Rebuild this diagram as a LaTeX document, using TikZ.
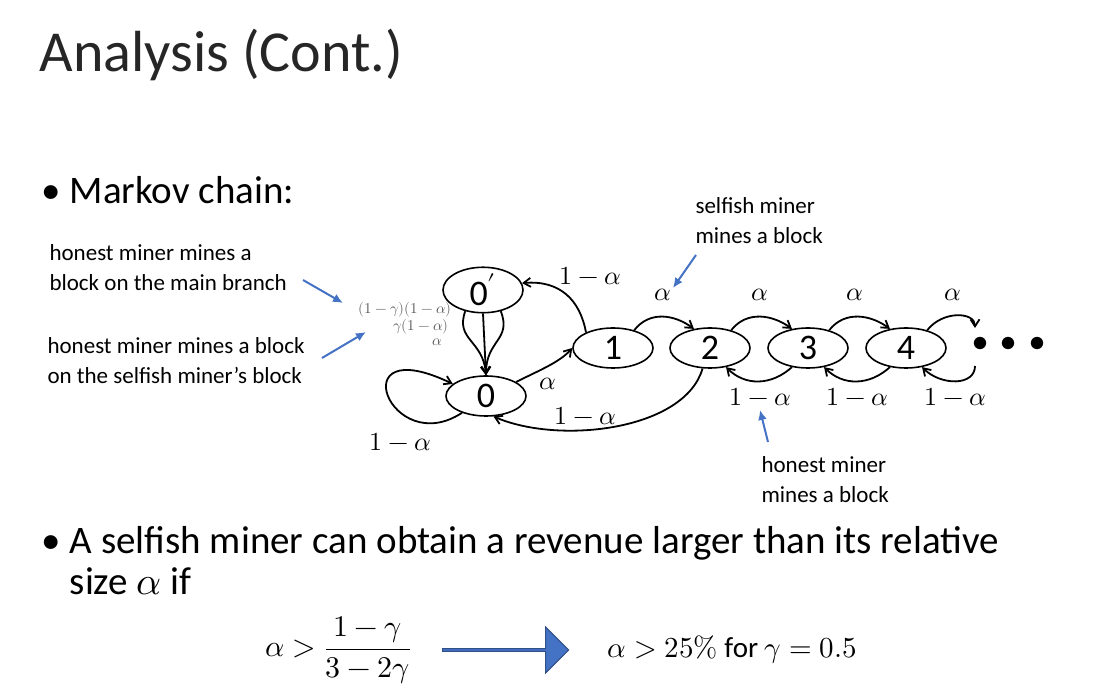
\documentclass[tikz,border=0pt]{standalone}
\usepackage{fontspec}
\setmainfont{Carlito}
\usepackage{unicode-math}
\usetikzlibrary{arrows.meta,shapes.arrows,shapes.geometric}
\definecolor{ppblue}{HTML}{4472C4}
\begin{document}
\begin{tikzpicture}[x=1pt,y=-1pt,
 st/.style={draw,line width=1.6pt,ellipse,minimum width=80pt,minimum height=40pt,inner sep=0pt,font=\fontsize{36}{36}\selectfont},
 ed/.style={line width=1.8pt,-{Straight Barb[length=7pt,width=9pt]}},
 lb/.style={font=\fontsize{26}{26}\selectfont},
 ann/.style={font=\fontsize{23}{30}\selectfont,align=left,anchor=west},
 bl/.style={draw=ppblue,line width=2pt,-{Latex[length=10pt,width=9pt]}},
 gr/.style={font=\fontsize{15}{15}\selectfont,text=black!65,anchor=east,inner sep=0pt}]
\useasboundingbox (0,0) rectangle (1093,700);
\node[anchor=west,font=\fontsize{58}{58}\selectfont,text=black!85] (title) at (36,55) {Analysis (Cont.)};
\node[anchor=west,font=\fontsize{39}{39}\selectfont] (b1) at (38,190) {• Markov chain:};
\node[anchor=west,font=\fontsize{39}{41}\selectfont,align=left] (b2) at (38,561) {• A selfish miner can obtain a revenue larger than its relative\\\phantom{• }size $\alpha$ if};
% states
\node[st] (zp) at (483,290) {0$'$};
\node[st] (z) at (486,396) {0};
\node[st] (s1) at (613,348) {1};
\node[st] (s2) at (710,348) {2};
\node[st] (s3) at (808,348) {3};
\node[st] (s4) at (906,348) {4};
\node (dots) at (1009,344) {\fontsize{32}{32}\selectfont$\bullet\,\bullet\,\bullet$};
\coordinate (e4) at (975,366);
\coordinate (f4) at (975,328);
% 0' -> 0
\draw[ed] (zp.south) -- (z.north);
\draw[ed] (zp.230) .. controls (455,340) and (483,340) .. (z.north);
\draw[ed] (zp.310) .. controls (512,340) and (486,340) .. (z.north);
% loop at 0
\draw[ed] (z.215) .. controls (390,460) and (340,330) .. (z.160);
\node[lb] (l0) at (400,442) {$1-\alpha$};
% 0->1
\draw[ed] (z.25) .. controls (540,370) and (560,362) .. (s1.180);
\node[lb] (la) at (548,384) {$\alpha$};
% 1->0'
\draw[ed] (s1.150) .. controls (580,300) and (560,280) .. (zp.10);
\node[lb] (lb1) at (590,276) {$1-\alpha$};
% 2->0
\draw[ed] (s2.250) .. controls (685,430) and (560,445) .. (z.290);
\node[lb] (lb2) at (585,416) {$1-\alpha$};
% chain
\draw[ed] (s1.40) .. controls (650,310) and (675,315) .. (s2.130);
\draw[ed] (s2.40) .. controls (747,310) and (773,315) .. (s3.130);
\draw[ed] (s3.40) .. controls (845,310) and (871,315) .. (s4.130);
\draw[ed] (s4.40) .. controls (943,310) and (975,312) .. (f4);
\draw[ed] (s3.230) .. controls (771,386) and (745,386) .. (s2.310);
\draw[ed] (s4.230) .. controls (869,386) and (843,386) .. (s3.310);
\draw[ed] (e4) .. controls (975,386) and (941,386) .. (s4.310);
\foreach \x/\n in {663/a1,760/a2,855/a3,953/a4}{\node[lb] (\n) at (\x,295) {$\alpha$};}
\foreach \x/\n in {760/c1,857/c2,955/c3}{\node[lb] (\n) at (\x,397) {$1-\alpha$};}
% gray labels
\node[gr] (g1) at (452,310) {$(1-\gamma)(1-\alpha)$};
\node[gr] (g2) at (449,327) {$\gamma(1-\alpha)$};
\node[gr] (g3) at (442,342) {$\alpha$};
% annotations
\node[ann] (t1) at (46,268) {honest miner mines a\\block on the main branch};
\node[ann] (t2) at (44,361) {honest miner mines a block\\on the selfish miner’s block};
\node[ann] (t3) at (692,221) {selfish miner\\mines a block};
\node[ann] (t4) at (758,480) {honest miner\\mines a block};
\coordinate (p1) at (343,303); \coordinate (p2) at (366,332);
\coordinate (p3) at (673,288); \coordinate (p4) at (760,410);
\draw[bl] (303,280) -- (p1);
\draw[bl] (322,358) -- (p2);
\draw[bl] (696,255) -- (p3);
\draw[bl] (768,442) -- (p4);
% equation
\node[font=\fontsize{30}{30}\selectfont] (eq) at (338,650) {$\alpha>\dfrac{1-\gamma}{3-2\gamma}$};
\node[single arrow,draw=ppblue!70!black,fill=ppblue,minimum height=126pt,minimum width=46pt,single arrow head extend=8pt,inner sep=0pt,line width=1pt] (arr) at (505,650) {};
\node[anchor=west,font=\fontsize{29}{29}\selectfont] (res) at (604,650) {$\alpha>25\%$ for $\gamma=0.5$};
\end{tikzpicture}
\end{document}
